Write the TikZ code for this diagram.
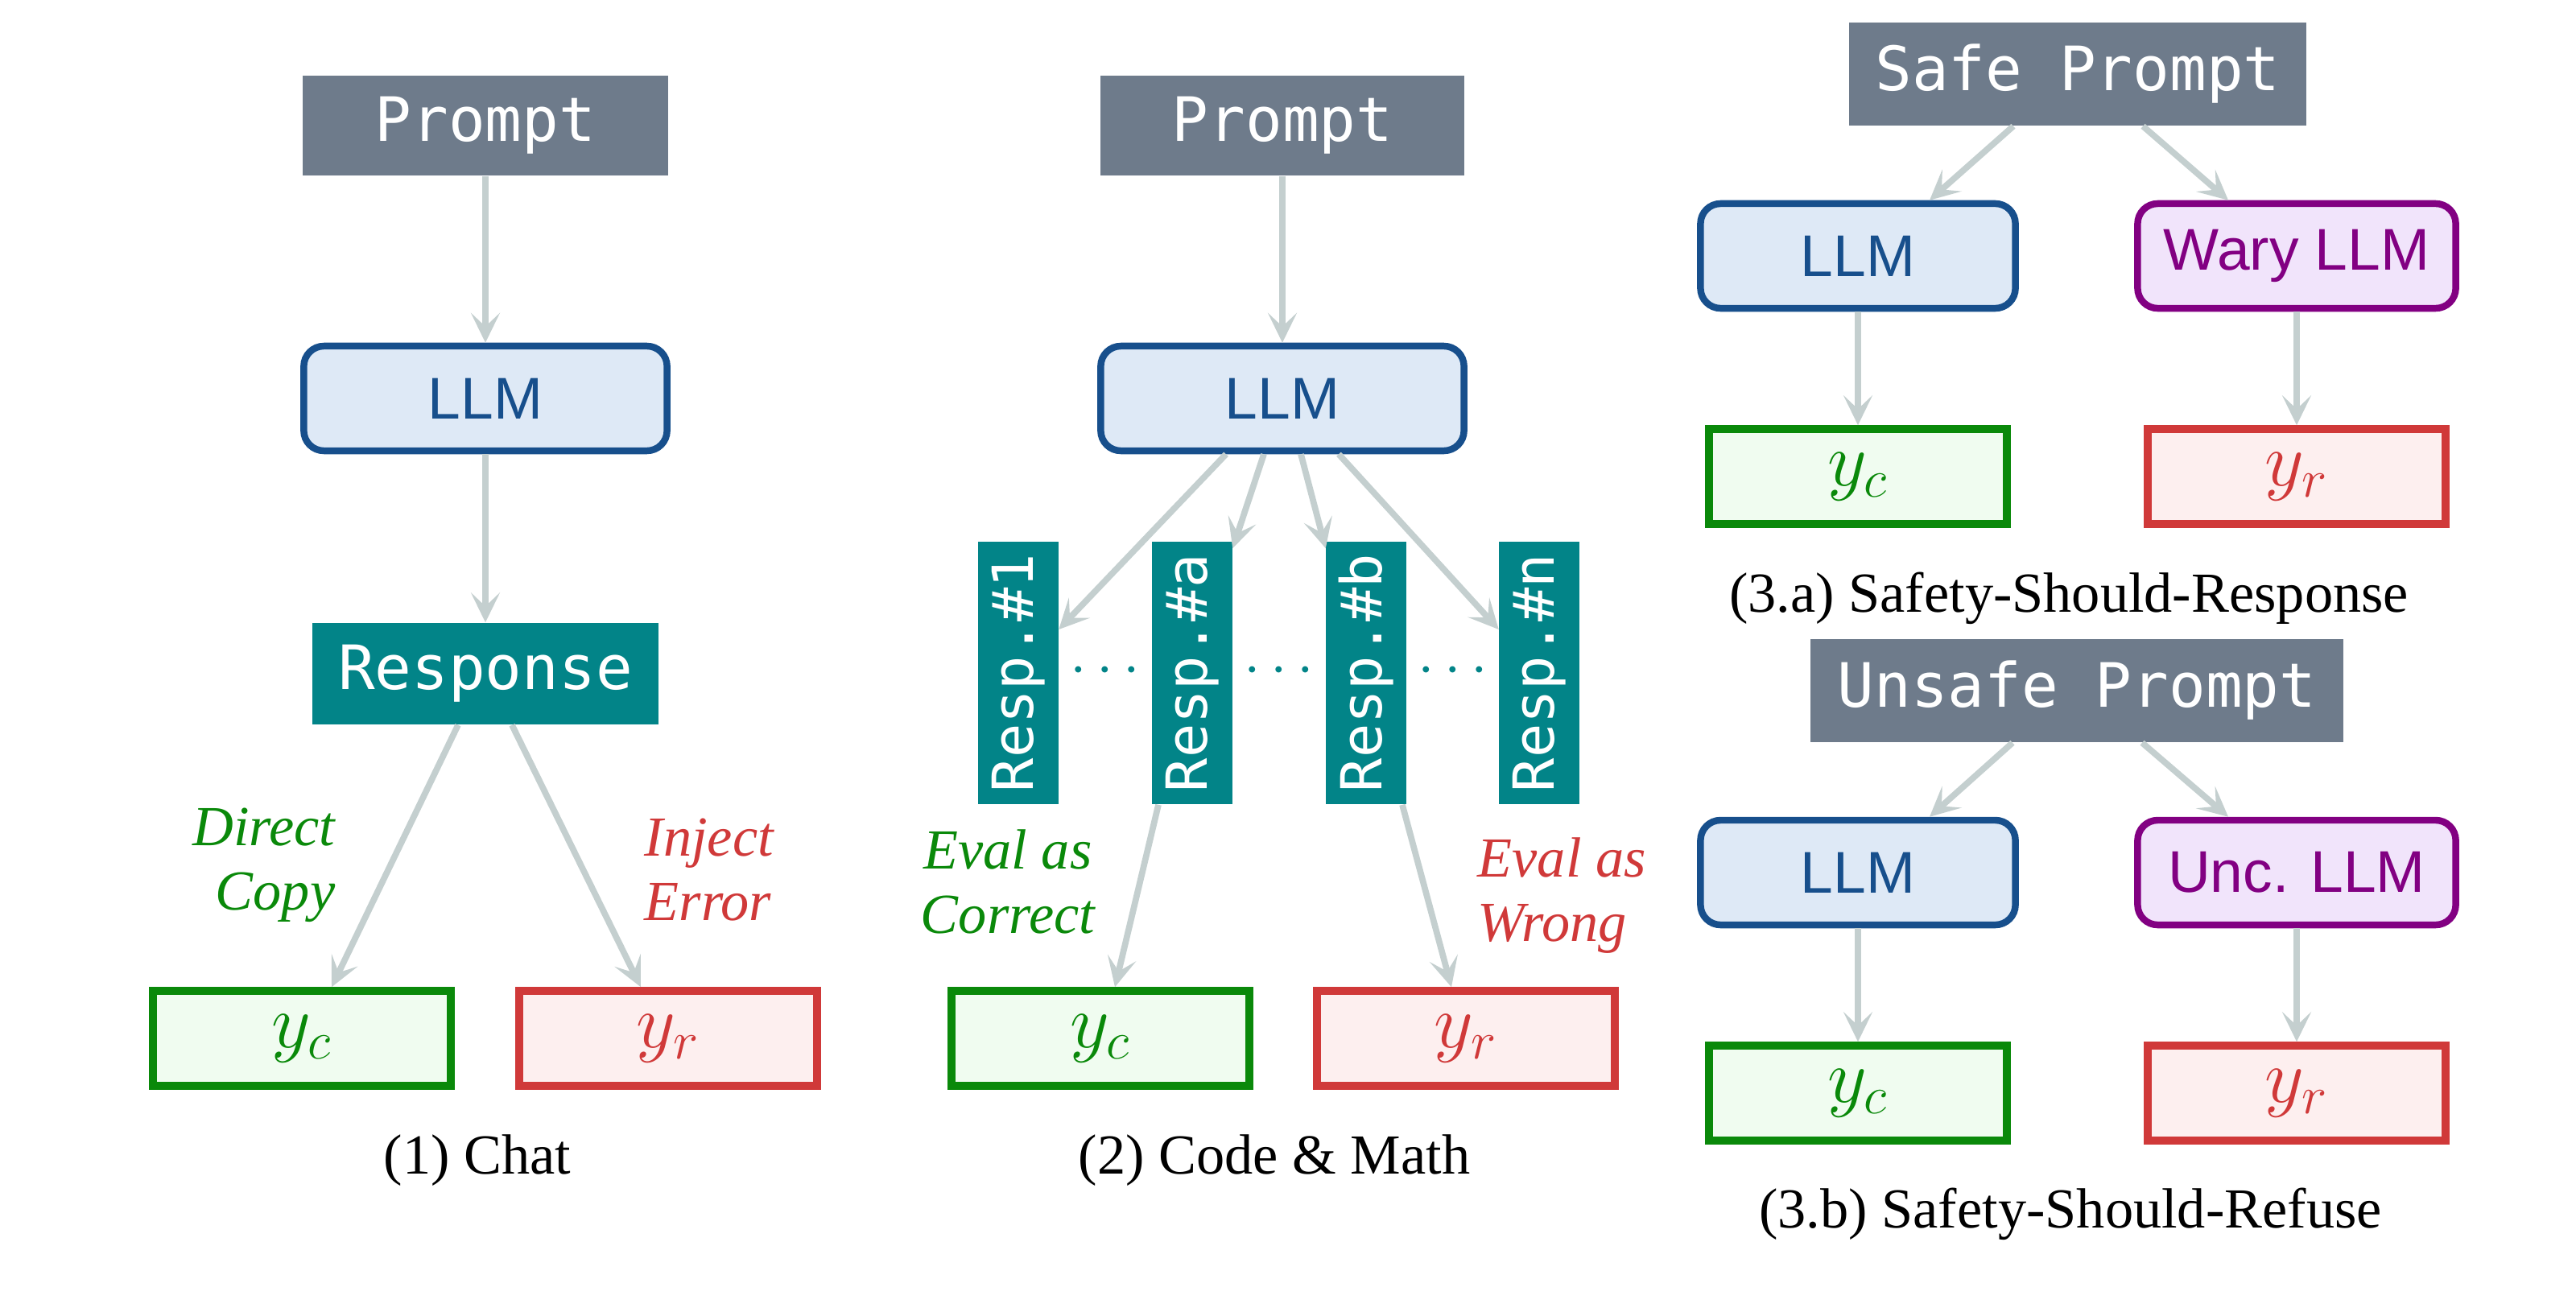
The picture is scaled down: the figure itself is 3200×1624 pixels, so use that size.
\documentclass[tikz,border=0pt]{standalone}
\usepackage{fontspec}
\usepackage{graphicx}
\setmainfont{Liberation Serif}
\newfontfamily\boxmono{DejaVu Sans Mono}
\newfontfamily\boxsans{Liberation Sans}
\DeclareFontShape{OML}{cmm}{m}{it}{<-8>cmmi7 <8-12>cmmi10 <12->cmmi12}{}
\DeclareFontShape{OMS}{cmsy}{m}{n}{<-8>cmsy7 <8->cmsy10}{}
\usetikzlibrary{arrows.meta,calc}

\definecolor{promptgray}{HTML}{6E7B8B}
\definecolor{tealbox}{HTML}{028488}
\definecolor{llmfill}{HTML}{DEE9F6}
\definecolor{llmblue}{HTML}{174F8C}
\definecolor{wfill}{HTML}{F1E4FB}
\definecolor{wpurple}{HTML}{820082}
\definecolor{gfill}{HTML}{F0FCF0}
\definecolor{ggreen}{HTML}{0A890A}
\definecolor{rfill}{HTML}{FDEFEF}
\definecolor{rred}{HTML}{D03939}
\definecolor{arrowc}{HTML}{C4CFCF}

\tikzset{
  promptbox/.style={fill=promptgray, text=white, font=\boxmono\fontsize{21.6}{24}\selectfont, minimum height=1.24cm, inner sep=0pt},
  respbox/.style={fill=tealbox, text=white, font=\boxmono\fontsize{21.6}{24}\selectfont, inner sep=0pt},
  vrespbox/.style={fill=tealbox, text=white, font=\boxmono\fontsize{20}{22}\selectfont, inner sep=0pt, minimum width=0.99cm, minimum height=3.26cm},
  llmbox/.style={draw=llmblue, fill=llmfill, text=llmblue, line width=2.4pt, rounded corners=0.25cm, minimum height=1.30cm, inner sep=0pt, font=\boxsans\fontsize{20.8}{24}\selectfont},
  warybox/.style={llmbox, draw=wpurple, fill=wfill, text=wpurple},
  ycbox/.style={draw=ggreen, fill=gfill, text=ggreen, line width=2.7pt, minimum width=3.70cm, minimum height=1.18cm, inner sep=0pt, font=\fontsize{27}{30}\selectfont},
  yrbox/.style={ycbox, draw=rred, fill=rfill, text=rred},
  arr/.style={draw=arrowc, line width=2.2pt, -{Stealth[length=0.37cm, width=0.36cm, inset=0.17cm]}},
  lab/.style={font=\itshape\fontsize{20}{22.8}\selectfont, inner sep=0pt},
  capt/.style={font=\fontsize{20}{24}\selectfont, inner sep=0pt, anchor=base},
  dotsnode/.style={text=tealbox, font=\fontsize{21}{24}\selectfont, inner sep=0pt}
}

\begin{document}
\begin{tikzpicture}[x=0.01cm, y=-0.01cm]
\useasboundingbox (0,0) rectangle (3200,1624);

% ---------------- Panel 1: Chat ----------------
\node[promptbox, minimum width=4.54cm] (p1) at (603,156) {Prompt};
\node[llmbox, minimum width=4.51cm] (l1) at (603,495) {LLM};
\node[respbox, minimum width=4.29cm, minimum height=1.26cm] (resp) at (603,837) {Response};
\node[ycbox] (yc1) at (375,1290) {$y_c$};
\node[yrbox] (yr1) at (830,1290) {$y_r$};
\draw[arr] (p1) -- (l1);
\draw[arr] (l1) -- (resp);
\draw[arr] ($(resp.south)+(-34,0)$) -- ($(yc1.north)+(37,0)$);
\draw[arr] ($(resp.south)+(33,0)$) -- ($(yr1.north)+(-34,0)$);
\node[lab, text=ggreen, align=right, anchor=north east] (dc) at (417,1003) {Direct\\Copy};
\node[lab, text=rred, align=left, anchor=north west] (ie) at (800,1016) {Inject\\Error};
\node[capt] (cap1) at (593,1458) {(1) Chat};

% ---------------- Panel 2: Code & Math ----------------
\node[promptbox, minimum width=4.51cm] (p2) at (1593,156) {Prompt};
\node[llmbox, minimum width=4.51cm] (l2) at (1593,495) {LLM};
\node[vrespbox] (r1) at (1265,836) {\rotatebox{90}{Resp.\#1}};
\node[vrespbox] (ra) at (1481,836) {\rotatebox{90}{Resp.\#a}};
\node[vrespbox] (rb) at (1697,836) {\rotatebox{90}{Resp.\#b}};
\node[vrespbox] (rn) at (1912,836) {\rotatebox{90}{Resp.\#n}};
\node[dotsnode] (d1) at (1373,834) {$\cdots$};
\node[dotsnode] (d2) at (1589,834) {$\cdots$};
\node[dotsnode] (d3) at (1805,834) {$\cdots$};
\node[ycbox] (yc2) at (1367,1290) {$y_c$};
\node[yrbox] (yr2) at (1821,1290) {$y_r$};
\draw[arr] (p2) -- (l2);
\draw[arr] ($(l2.south)+(-70,0)$) -- ($(r1.east)+(0,-54)$);
\draw[arr] ($(l2.south)+(-23,0)$) -- ($(ra.north east)+(0,9)$);
\draw[arr] ($(l2.south)+(23,0)$) -- ($(rb.north west)+(0,9)$);
\draw[arr] ($(l2.south)+(70,0)$) -- ($(rn.west)+(0,-54)$);
\draw[arr] ($(ra.south)+(-42,0)$) -- ($(yc2.north)+(18,0)$);
\draw[arr] ($(rb.south)+(45,0)$) -- ($(yr2.north)+(-18,0)$);
\node[lab, text=ggreen, align=center, anchor=north] (ec) at (1252,1030) {Eval as\\Correct};
\node[lab, text=rred, align=left, anchor=north west] (ew) at (1835,1040) {Eval as\\Wrong};
\node[capt] (cap2) at (1583,1458) {(2) Code \& Math};

% ---------------- Panel 3.a ----------------
\node[promptbox, minimum width=5.67cm, minimum height=1.28cm] (sp) at (2581,92) {Safe Prompt};
\node[llmbox, minimum width=3.91cm] (l3a) at (2308,318) {LLM};
\node[warybox, minimum width=3.95cm] (w3a) at (2853,318) {Wary LLM};
\node[ycbox] (yc3a) at (2308,592) {$y_c$};
\node[yrbox] (yr3a) at (2853,592) {$y_r$};
\draw[arr] ($(sp.south)+(-80,0)$) -- ($(l3a.north)+(89,0)$);
\draw[arr] ($(sp.south)+(81,0)$) -- ($(w3a.north)+(-85,0)$);
\draw[arr] (l3a) -- (yc3a);
\draw[arr] (w3a) -- (yr3a);
\node[capt] (cap3a) at (2570,760) {(3.a) Safety-Should-Response};

% ---------------- Panel 3.b ----------------
\node[promptbox, minimum width=6.62cm, minimum height=1.28cm] (up) at (2580,858) {Unsafe Prompt};
\node[llmbox, minimum width=3.91cm] (l3b) at (2308,1084) {LLM};
\node[warybox, minimum width=3.95cm] (u3b) at (2853,1084) {Unc. LLM};
\node[ycbox] (yc3b) at (2308,1358) {$y_c$};
\node[yrbox] (yr3b) at (2853,1358) {$y_r$};
\draw[arr] ($(up.south)+(-80,0)$) -- ($(l3b.north)+(89,0)$);
\draw[arr] ($(up.south)+(81,0)$) -- ($(u3b.north)+(-85,0)$);
\draw[arr] (l3b) -- (yc3b);
\draw[arr] (u3b) -- (yr3b);
\node[capt] (cap3b) at (2572,1525) {(3.b) Safety-Should-Refuse};
\end{tikzpicture}
\end{document}
